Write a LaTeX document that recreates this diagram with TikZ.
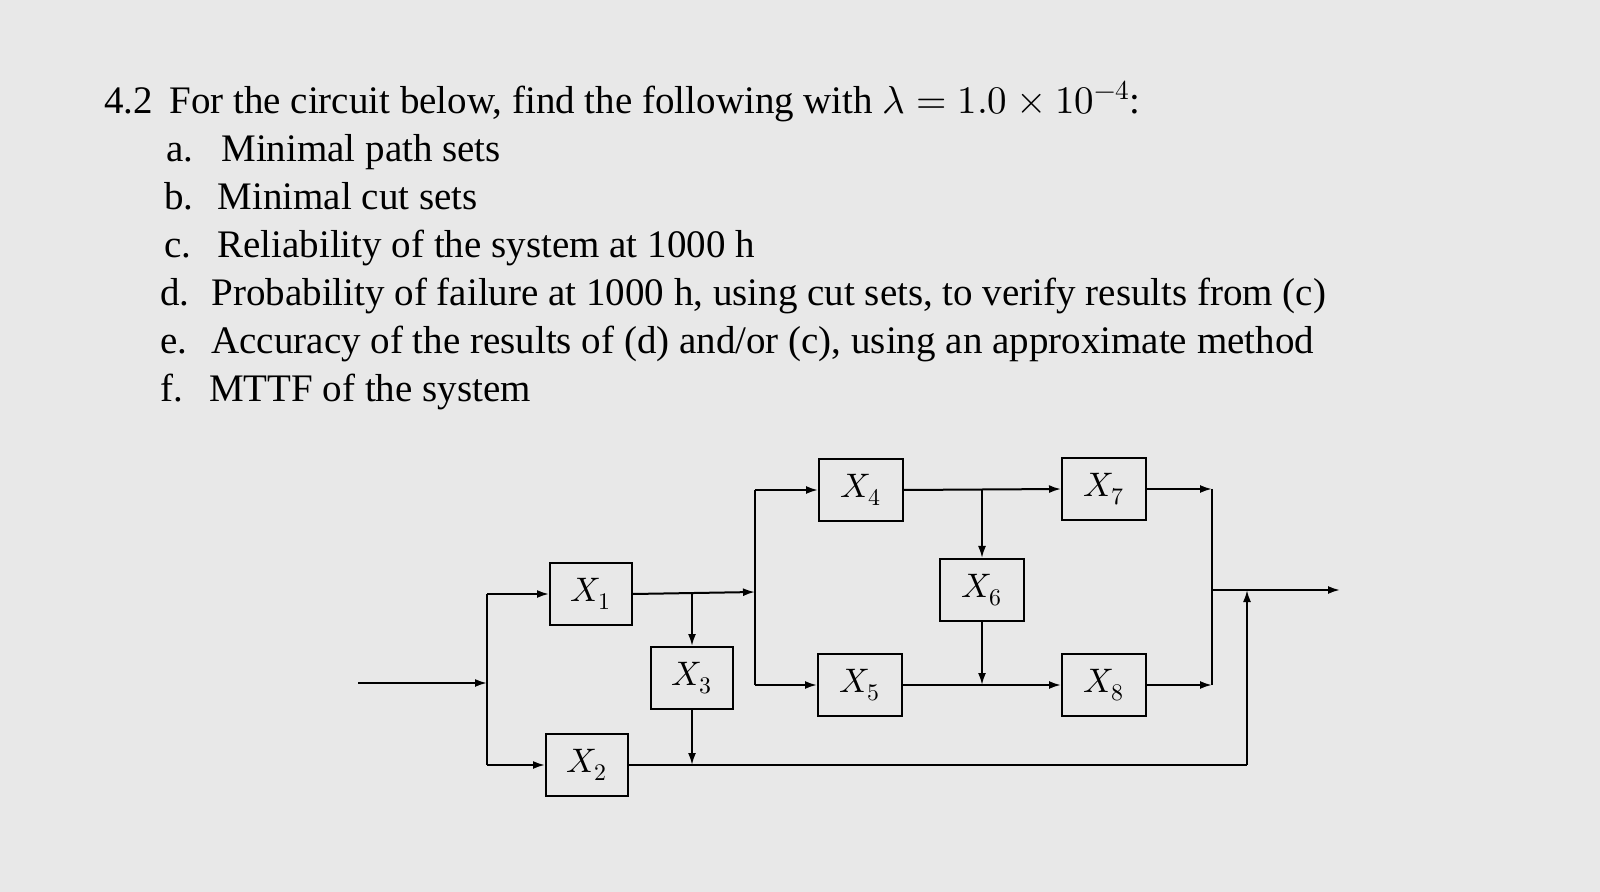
\documentclass[tikz,border=0pt]{standalone}
\usepackage{fontspec}
\setmainfont{Liberation Serif}
\usepackage{unicode-math}
\setmathfont{Latin Modern Math}
\usetikzlibrary{arrows.meta}
\begin{document}
\begin{tikzpicture}[x=0.5pt,y=-0.5pt,
  blk/.style={draw,line width=1pt,minimum width=41pt,minimum height=31pt,inner sep=0pt,font=\fontsize{17}{17}\selectfont},
  wire/.style={line width=1pt},
  arr/.style={line width=1pt,-{Latex[length=6pt,width=4pt]}},
  txt/.style={anchor=base west,inner sep=0pt,font=\fontsize{19.5}{19.5}\selectfont}]
\fill[gray!18] (0,0) rectangle (1600,892);
\useasboundingbox (0,0) rectangle (1600,892);
\node[txt] (t0) at (104,114) {4.2\, For the circuit below, find the following with $\lambda = 1.0\times 10^{-4}$:};
\node[txt] (ta) at (166,162) {a.\hspace{14pt}Minimal path sets};
\node[txt] (tb) at (164,210) {b.\hspace{12pt}Minimal cut sets};
\node[txt] (tc) at (164,258) {c.\hspace{13pt}Reliability of the system at 1000 h};
\node[txt] (td) at (160,306) {d.\hspace{11pt}Probability of failure at 1000 h, using cut sets, to verify results from (c)};
\node[txt] (te) at (160,354) {e.\hspace{12pt}Accuracy of the results of (d) and/or (c), using an approximate method};
\node[txt] (tf) at (160,402) {f.\hspace{13pt}MTTF of the system};
\node[blk] (x1) at (591,594) {$X_1$};
\node[blk] (x2) at (587,765) {$X_2$};
\node[blk] (x3) at (692,678) {$X_3$};
\node[blk,minimum width=42pt] (x4) at (861,490) {$X_4$};
\node[blk,minimum width=42pt] (x5) at (860,685) {$X_5$};
\node[blk,minimum width=42pt] (x6) at (982,590) {$X_6$};
\node[blk,minimum width=42pt] (x7) at (1104,489) {$X_7$};
\node[blk,minimum width=42pt] (x8) at (1104,685) {$X_8$};
\coordinate (in) at (358,683);
\coordinate (s1) at (487,683);
\coordinate (j1) at (755,592);
\coordinate (j2) at (1212,590);
\coordinate (out) at (1340,590);
\draw[arr] (in) -- (s1);
\draw[wire] (s1|-x1.west) -- (s1|-x2.west);
\draw[arr] (s1|-x1.west) -- (x1.west);
\draw[arr] (s1|-x2.west) -- (x2.west);
\draw[arr] (x1.east) -- (j1);
\draw[arr] (x3.north|-x1.east) -- (x3.north);
\draw[wire] (j1|-x4.west) -- (j1|-x5.west);
\draw[arr] (j1|-x4.west) -- (x4.west);
\draw[arr] (j1|-x5.west) -- (x5.west);
\draw[arr] (x3.south) -- (x3.south|-x2.east);
\draw[wire] (x2.east) -- (1247,765);
\draw[arr] (1247,765) -- (1247,590);
\draw[arr] (x4.east) -- (x7.west);
\draw[arr] (x6.north|-x4.east) -- (x6.north);
\draw[arr] (x5.east) -- (x8.west);
\draw[arr] (x6.south) -- (x6.south|-x5.east);
\draw[arr] (x7.east) -- (j2|-x7.east);
\draw[arr] (x8.east) -- (j2|-x8.east);
\draw[wire] (j2|-x7.east) -- (j2|-x8.east);
\draw[arr] (j2) -- (out);
\end{tikzpicture}
\end{document}
